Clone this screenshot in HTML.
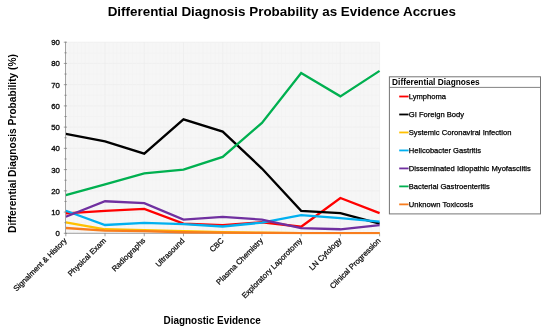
<!DOCTYPE html>
<html><head><meta charset="utf-8"><title>Differential Diagnosis Probability as Evidence Accrues</title>
<style>html,body{margin:0;padding:0;background:#fff;}svg{display:block;}text{font-family:"Liberation Sans",Arial,Helvetica,sans-serif;fill:#000;}</style></head><body>
<svg width="550" height="333" viewBox="0 0 550 333">
<rect x="0" y="0" width="550" height="333" fill="#ffffff"/>
<rect x="65.8" y="42.2" width="313.80" height="191.10" fill="#f6f6f6"/>
<path d="M65.8 233.30H379.6 M65.8 212.07H379.6 M65.8 190.83H379.6 M65.8 169.60H379.6 M65.8 148.37H379.6 M65.8 127.13H379.6 M65.8 105.90H379.6 M65.8 84.67H379.6 M65.8 63.43H379.6 M65.8 42.20H379.6 M65.80 42.2V233.3 M105.03 42.2V233.3 M144.25 42.2V233.3 M183.48 42.2V233.3 M222.70 42.2V233.3 M261.93 42.2V233.3 M301.15 42.2V233.3 M340.38 42.2V233.3 M379.60 42.2V233.3" stroke="#ececec" stroke-width="0.7" fill="none"/>
<path d="M69.72 42.2V233.3 M73.64 42.2V233.3 M77.57 42.2V233.3 M81.49 42.2V233.3 M89.34 42.2V233.3 M93.26 42.2V233.3 M97.18 42.2V233.3 M101.10 42.2V233.3 M108.95 42.2V233.3 M112.87 42.2V233.3 M116.79 42.2V233.3 M120.72 42.2V233.3 M128.56 42.2V233.3 M132.48 42.2V233.3 M136.41 42.2V233.3 M140.33 42.2V233.3 M148.17 42.2V233.3 M152.09 42.2V233.3 M156.02 42.2V233.3 M159.94 42.2V233.3 M167.78 42.2V233.3 M171.71 42.2V233.3 M175.63 42.2V233.3 M179.55 42.2V233.3 M187.40 42.2V233.3 M191.32 42.2V233.3 M195.24 42.2V233.3 M199.17 42.2V233.3 M207.01 42.2V233.3 M210.93 42.2V233.3 M214.86 42.2V233.3 M218.78 42.2V233.3 M226.62 42.2V233.3 M230.55 42.2V233.3 M234.47 42.2V233.3 M238.39 42.2V233.3 M246.24 42.2V233.3 M250.16 42.2V233.3 M254.08 42.2V233.3 M258.00 42.2V233.3 M265.85 42.2V233.3 M269.77 42.2V233.3 M273.69 42.2V233.3 M277.62 42.2V233.3 M285.46 42.2V233.3 M289.38 42.2V233.3 M293.31 42.2V233.3 M297.23 42.2V233.3 M305.07 42.2V233.3 M309.00 42.2V233.3 M312.92 42.2V233.3 M316.84 42.2V233.3 M324.69 42.2V233.3 M328.61 42.2V233.3 M332.53 42.2V233.3 M336.45 42.2V233.3 M344.30 42.2V233.3 M348.22 42.2V233.3 M352.14 42.2V233.3 M356.06 42.2V233.3 M363.91 42.2V233.3 M367.83 42.2V233.3 M371.76 42.2V233.3 M375.68 42.2V233.3" stroke="#f2f2f2" stroke-width="0.5" fill="none"/>
<path d="M65.8 222.68H379.6 M65.8 201.45H379.6 M65.8 180.22H379.6 M65.8 158.98H379.6 M65.8 137.75H379.6 M65.8 116.52H379.6 M65.8 95.28H379.6 M65.8 74.05H379.6 M65.8 52.82H379.6 M85.41 42.2V233.3 M124.64 42.2V233.3 M163.86 42.2V233.3 M203.09 42.2V233.3 M242.31 42.2V233.3 M281.54 42.2V233.3 M320.76 42.2V233.3 M359.99 42.2V233.3" stroke="#f1f1f1" stroke-width="0.6" fill="none"/>
<path d="M65.5 41.7V233.3H379.6" stroke="#858585" stroke-width="0.75" fill="none"/>
<path d="M63.8 233.30H67.0 M63.8 212.07H67.0 M63.8 190.83H67.0 M63.8 169.60H67.0 M63.8 148.37H67.0 M63.8 127.13H67.0 M63.8 105.90H67.0 M63.8 84.67H67.0 M63.8 63.43H67.0 M63.8 42.20H67.0 M64.39999999999999 222.68H66.7 M64.39999999999999 201.45H66.7 M64.39999999999999 180.22H66.7 M64.39999999999999 158.98H66.7 M64.39999999999999 137.75H66.7 M64.39999999999999 116.52H66.7 M64.39999999999999 95.28H66.7 M64.39999999999999 74.05H66.7 M64.39999999999999 52.82H66.7 M65.80 233.3v3 M105.03 233.3v3 M144.25 233.3v3 M183.48 233.3v3 M222.70 233.3v3 M261.93 233.3v3 M301.15 233.3v3 M340.38 233.3v3 M379.60 233.3v3" stroke="#7a7a7a" stroke-width="0.7" fill="none"/>
<clipPath id="c"><rect x="65.8" y="39.2" width="314.80" height="195.10"/></clipPath>
<g clip-path="url(#c)" fill="none" stroke-linejoin="miter" stroke-linecap="butt">
<polyline points="65.80,213.34 105.03,210.79 144.25,208.88 183.48,223.53 222.70,225.23 261.93,222.26 301.15,226.72 340.38,198.05 379.60,213.13" stroke="#ff0000" stroke-width="2.3"/>
<polyline points="65.80,133.93 105.03,141.36 144.25,153.68 183.48,119.28 222.70,131.59 261.93,168.54 301.15,210.79 340.38,213.13 379.60,223.53" stroke="#000000" stroke-width="2.3"/>
<polyline points="65.80,222.47 105.03,229.27 144.25,230.12 183.48,231.18 222.70,232.24 261.93,232.66 301.15,233.09 340.38,233.09 379.60,233.09" stroke="#ffc000" stroke-width="2.3"/>
<polyline points="65.80,210.79 105.03,225.02 144.25,222.90 183.48,224.17 222.70,226.51 261.93,222.68 301.15,215.04 340.38,218.22 379.60,221.62" stroke="#00b0f0" stroke-width="2.3"/>
<polyline points="65.80,216.74 105.03,201.24 144.25,203.15 183.48,219.60 222.70,216.95 261.93,219.60 301.15,228.20 340.38,229.27 379.60,225.02" stroke="#7030a0" stroke-width="2.3"/>
<polyline points="65.80,195.08 105.03,184.46 144.25,173.42 183.48,169.60 222.70,156.86 261.93,122.89 301.15,72.99 340.38,96.34 379.60,70.87" stroke="#00b050" stroke-width="2.3"/>
<polyline points="65.80,227.99 105.03,230.54 144.25,231.18 183.48,232.24 222.70,232.66 261.93,232.88 301.15,233.09 340.38,233.09 379.60,233.09" stroke="#f87d1e" stroke-width="2.3"/>
</g>
<text x="59.9" y="236.20" font-size="7.8" text-anchor="end" fill="#111" stroke="#111" stroke-width="0.32">0</text>
<text x="59.9" y="214.97" font-size="7.8" text-anchor="end" fill="#111" stroke="#111" stroke-width="0.32">10</text>
<text x="59.9" y="193.73" font-size="7.8" text-anchor="end" fill="#111" stroke="#111" stroke-width="0.32">20</text>
<text x="59.9" y="172.50" font-size="7.8" text-anchor="end" fill="#111" stroke="#111" stroke-width="0.32">30</text>
<text x="59.9" y="151.27" font-size="7.8" text-anchor="end" fill="#111" stroke="#111" stroke-width="0.32">40</text>
<text x="59.9" y="130.03" font-size="7.8" text-anchor="end" fill="#111" stroke="#111" stroke-width="0.32">50</text>
<text x="59.9" y="108.80" font-size="7.8" text-anchor="end" fill="#111" stroke="#111" stroke-width="0.32">60</text>
<text x="59.9" y="87.57" font-size="7.8" text-anchor="end" fill="#111" stroke="#111" stroke-width="0.32">70</text>
<text x="59.9" y="66.33" font-size="7.8" text-anchor="end" fill="#111" stroke="#111" stroke-width="0.32">80</text>
<text x="59.9" y="45.10" font-size="7.8" text-anchor="end" fill="#111" stroke="#111" stroke-width="0.32">90</text>
<text transform="translate(67.30 241.10) rotate(-45)" font-size="7.7" text-anchor="end" fill="#111" stroke="#111" stroke-width="0.25">Signalment &amp; History</text>
<text transform="translate(106.53 241.10) rotate(-45)" font-size="7.7" text-anchor="end" fill="#111" stroke="#111" stroke-width="0.25">Physical Exam</text>
<text transform="translate(145.75 241.10) rotate(-45)" font-size="7.7" text-anchor="end" fill="#111" stroke="#111" stroke-width="0.25">Radiographs</text>
<text transform="translate(184.98 241.10) rotate(-45)" font-size="7.7" text-anchor="end" fill="#111" stroke="#111" stroke-width="0.25">Ultrasound</text>
<text transform="translate(224.20 241.10) rotate(-45)" font-size="7.7" text-anchor="end" fill="#111" stroke="#111" stroke-width="0.25">CBC</text>
<text transform="translate(263.43 241.10) rotate(-45)" font-size="7.7" text-anchor="end" fill="#111" stroke="#111" stroke-width="0.25">Plasma Chemistry</text>
<text transform="translate(302.65 241.10) rotate(-45)" font-size="7.7" text-anchor="end" fill="#111" stroke="#111" stroke-width="0.25">Exploratory Laporotomy</text>
<text transform="translate(341.88 241.10) rotate(-45)" font-size="7.7" text-anchor="end" fill="#111" stroke="#111" stroke-width="0.25">LN Cytology</text>
<text transform="translate(381.10 241.10) rotate(-45)" font-size="7.7" text-anchor="end" fill="#111" stroke="#111" stroke-width="0.25">Clinical Progression</text>
<text x="107.7" y="16.4" font-size="13.5" font-weight="bold" textLength="348.2" lengthAdjust="spacingAndGlyphs">Differential Diagnosis Probability as Evidence Accrues</text>
<text x="163.5" y="323.5" font-size="10.2" font-weight="bold" textLength="97.2" lengthAdjust="spacingAndGlyphs">Diagnostic Evidence</text>
<text transform="translate(16.1 143.5) rotate(-90)" font-size="10.2" font-weight="bold" text-anchor="middle">Differential Diagnosis Probability (%)</text>
<rect x="389.4" y="76.8" width="151.1" height="137.1" fill="#fff" stroke="#757575" stroke-width="1"/>
<path d="M389.4 87.4H540.5" stroke="#757575" stroke-width="0.9"/>
<text x="392.09999999999997" y="85.15" font-size="8.5" font-weight="bold" textLength="87.6" lengthAdjust="spacingAndGlyphs">Differential Diagnoses</text>
<path d="M399.2 96.50H408.6" stroke="#ff0000" stroke-width="1.8"/>
<text x="408.8" y="99.40" font-size="7.6" stroke="#000" stroke-width="0.25">Lymphoma</text>
<path d="M399.2 114.48H408.6" stroke="#000000" stroke-width="1.8"/>
<text x="408.8" y="117.38" font-size="7.6" stroke="#000" stroke-width="0.25">GI Foreign Body</text>
<path d="M399.2 132.46H408.6" stroke="#ffc000" stroke-width="1.8"/>
<text x="408.8" y="135.36" font-size="7.6" stroke="#000" stroke-width="0.25">Systemic Coronaviral Infection</text>
<path d="M399.2 150.44H408.6" stroke="#00b0f0" stroke-width="1.8"/>
<text x="408.8" y="153.34" font-size="7.6" stroke="#000" stroke-width="0.25">Helicobacter Gastritis</text>
<path d="M399.2 168.42H408.6" stroke="#7030a0" stroke-width="1.8"/>
<text x="408.8" y="171.32" font-size="7.6" stroke="#000" stroke-width="0.25">Disseminated Idiopathic Myofasciitis</text>
<path d="M399.2 186.40H408.6" stroke="#00b050" stroke-width="1.8"/>
<text x="408.8" y="189.30" font-size="7.6" stroke="#000" stroke-width="0.25">Bacterial Gastroenteritis</text>
<path d="M399.2 204.38H408.6" stroke="#f87d1e" stroke-width="1.8"/>
<text x="408.8" y="207.28" font-size="7.6" stroke="#000" stroke-width="0.25">Unknown Toxicosis</text>
</svg></body></html>
